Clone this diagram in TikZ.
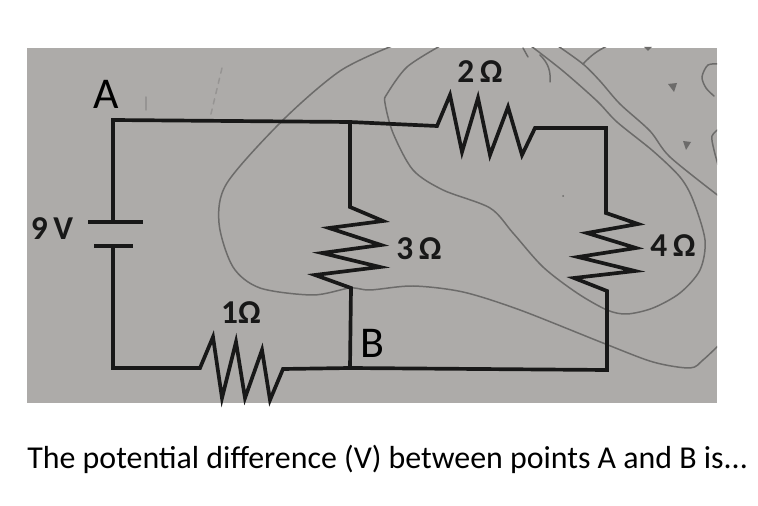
\documentclass[tikz,border=0pt]{standalone}
\usepackage{fontspec}
\setmainfont{Carlito}
\usepackage{tikz}

\definecolor{paper}{RGB}{173,171,169}
\definecolor{pencil}{RGB}{108,107,106}
\definecolor{ink}{RGB}{24,24,24}
\tikzset{
  wire/.style={ink,line width=2.1pt,line join=miter},
  sketch/.style={pencil,line width=0.85pt,line cap=round},
  value/.style={ink,font=\bfseries\fontsize{19}{19}\selectfont},
  point/.style={black,font=\fontsize{25}{25}\selectfont}
}

\begin{document}
\begin{tikzpicture}[x=0.02cm,y=-0.02cm]
\useasboundingbox (0,0) rectangle (758,506);
\fill[paper] (27,48) rectangle (717,403);

\begin{scope}
\clip (27,48) rectangle (717,403);
% pencil lines
\draw[sketch] plot[smooth] coordinates {(392,46) (340,71) (283,120) (227,183) (219,223) (233,267) (260,288) (313,295) (350,288) (370,290) (413,286) (463,292) (520,310) (603,343) (653,362) (690,368) (703,360) (720,344)};
\draw[sketch] plot[smooth] coordinates {(440,46) (407,67) (387,94) (385,103) (393,133) (413,170) (443,190) (490,208) (513,233) (543,267) (577,293) (607,310) (627,314) (653,308) (680,293) (700,270) (705,240) (693,200) (680,177) (653,151) (617,122) (597,101) (563,71) (531,46)};
\draw[sketch] plot[smooth] coordinates {(558,46) (583,64) (600,81) (620,104) (650,131) (670,157) (720,197)};
\draw[sketch] (583,64) to[bend left=10] (607,46);
\draw[sketch] (523,48) -- (528,57);
\draw[sketch] (540,55) to[bend left=25] (550,82);
\draw[sketch] plot[smooth] coordinates {(720,64) (708,65) (702,77) (706,88) (714,96)};
\draw[sketch] plot[smooth] coordinates {(720,128) (712,136) (714,150) (720,172)};
\draw[sketch,opacity=0.35] (146,97) -- (146,110);
\draw[sketch,opacity=0.35,dashed] (222,68) -- (210,118);
\end{scope}

% specks
\fill[pencil] (668,84) -- (677,83) -- (674,92) -- cycle;
\fill[pencil] (683,141) -- (691,142) -- (686,150) -- cycle;
\fill[pencil] (644,47) -- (652,47) -- (648,51) -- cycle;
\fill[pencil] (563,196) circle (1);

\coordinate (topleft) at (113,120);
\coordinate (topmid) at (350,122);
\coordinate (topright) at (606,128);
\coordinate (botleft) at (113,368);
\coordinate (botmid) at (350,368);
\coordinate (botright) at (607,370);
\coordinate (platetop) at (113,222);
\coordinate (platebot) at (113,246);

% wires
\draw[wire] (platetop) -- (topleft) -- (topmid) -- (437,126) -- (450,95) -- (462,152) -- (478,98) -- (490,155) -- (508,107) -- (522,155) -- (535,128) -- (topright) -- (606,213) -- (638,224) -- (587,233) -- (636,248) -- (578,257) -- (635,271) -- (574,278) -- (607,291) -- (botright) -- (botmid) -- (283,369) -- (270,400) -- (262,350) -- (245,398) -- (236,342) -- (222,398) -- (213,337) -- (200,368) -- (botleft) -- (platebot);
\draw[wire] (topmid) -- (350,207) -- (383,221) -- (329,228) -- (381,245) -- (322,253) -- (380,267) -- (315,275) -- (351,288) -- (botmid);

% battery
\draw[wire] (88,222) -- (143,222);
\draw[wire] (94,246) -- (133,246);

\node[point] (ptA) at (106,94) {A};
\node[point] (ptB) at (372,343) {B};
\node[value] (bat) at (52,229) {9\,V};
\node[value] (rone) at (241,313) {1\symbol{"03A9}};
\node[value] (rtwo) at (480,72) {2\,\symbol{"03A9}};
\node[value] (rthree) at (419,249) {3\,\symbol{"03A9}};
\node[value] (rfour) at (673,246) {4\,\symbol{"03A9}};
\node[anchor=base west,inner sep=0pt,font=\fontsize{18.15}{18.15}\selectfont] (question) at (27,469) {The potential difference (V) between points A and B is...};
\end{tikzpicture}
\end{document}
